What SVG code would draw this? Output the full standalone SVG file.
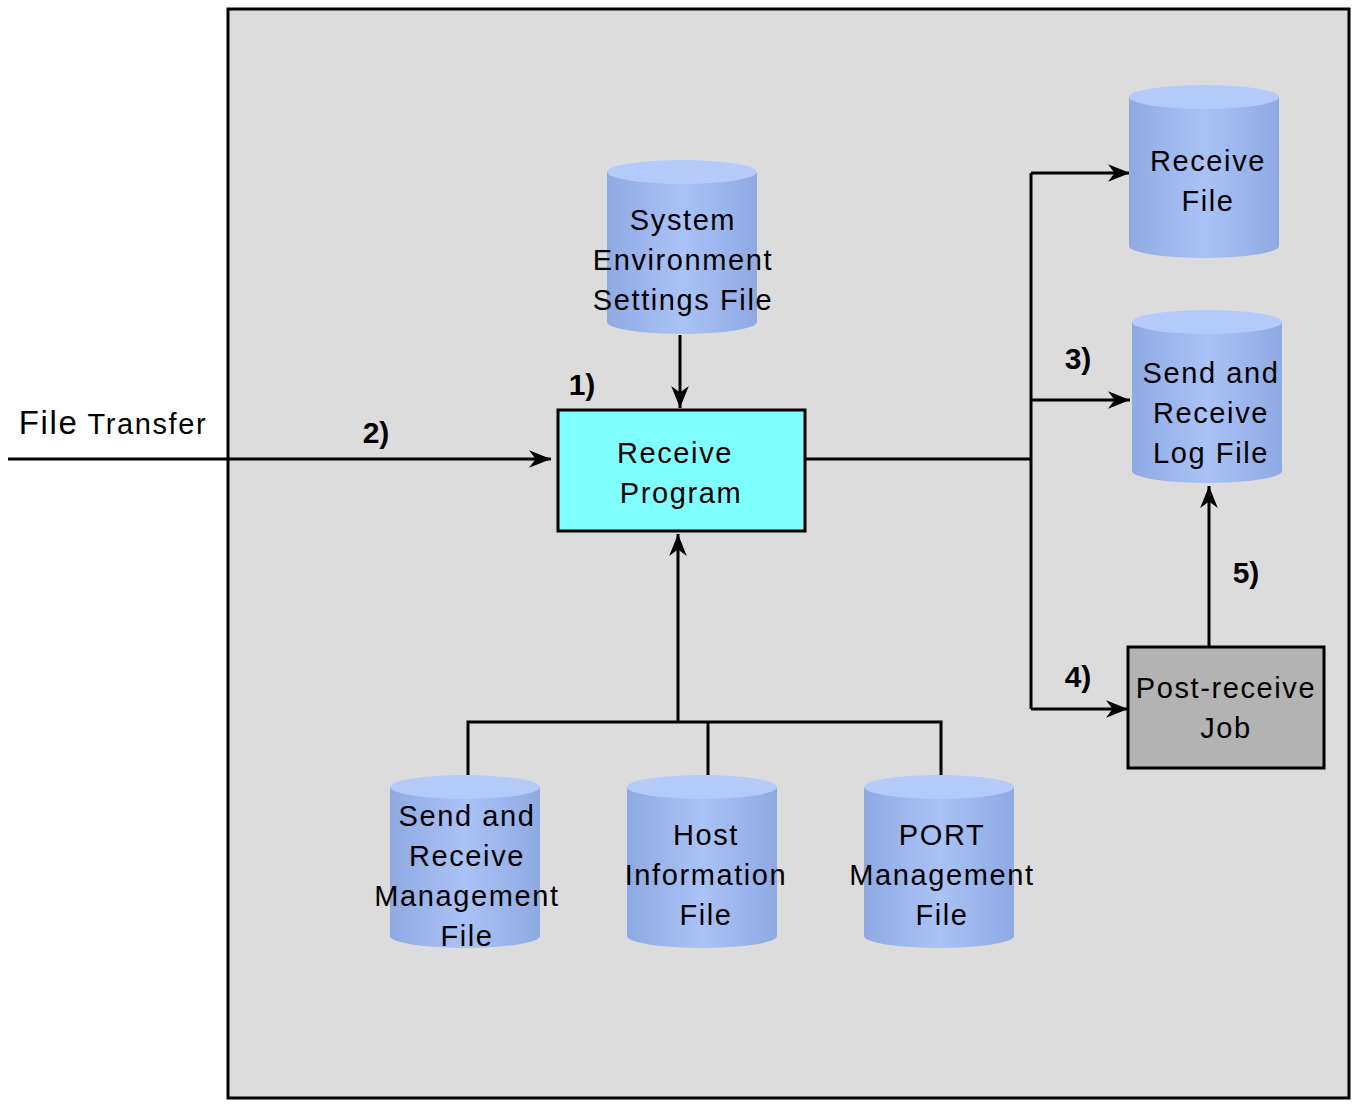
<svg xmlns="http://www.w3.org/2000/svg" width="1358" height="1108" viewBox="0 0 1358 1108">
<defs>
<linearGradient id="cg" x1="0" x2="1" y1="0" y2="0"><stop offset="0" stop-color="#8eaae2"/><stop offset="0.5" stop-color="#aac3f6"/><stop offset="1" stop-color="#8eaae2"/></linearGradient>
<marker id="a" viewBox="0 0 20 16" refX="20" refY="8" markerWidth="22" markerHeight="18" markerUnits="userSpaceOnUse" orient="auto"><path d="M0,0 L20,8 L0,16 L6,8 Z" fill="#000"/></marker>
</defs>
<style>
text{font-family:"Liberation Sans",Arial,sans-serif;font-size:29px;text-anchor:middle;fill:#000;letter-spacing:1.6px}
.b{font-weight:bold;font-size:30px;letter-spacing:0}
.ln{stroke:#000;stroke-width:3;fill:none}
.body{fill:url(#cg)}
.top{fill:#b4cbfa}
</style>
<rect x="228" y="9" width="1121" height="1089" fill="#dcdcdc" stroke="#000" stroke-width="3"/>
<g id="connectors">
<path class="ln" d="M8,459 H551" marker-end="url(#a)"/>
<path class="ln" d="M680,335 V408" marker-end="url(#a)"/>
<path class="ln" d="M678,722 V534" marker-end="url(#a)"/>
<path class="ln" d="M468,775 V722 H941 V775 M708,722 V775"/>
<path class="ln" d="M805,459 H1031 M1031,173 V709"/>
<path class="ln" d="M1031,173 H1130" marker-end="url(#a)"/>
<path class="ln" d="M1031,400 H1130" marker-end="url(#a)"/>
<path class="ln" d="M1031,709 H1128" marker-end="url(#a)"/>
<path class="ln" d="M1209,647 V486" marker-end="url(#a)"/>
</g>
<g id="labels">
<text x="113" y="434"><tspan font-size="33">File</tspan> Transfer</text>
<text class="b" x="376" y="443">2)</text>
<text class="b" x="582" y="395">1)</text>
<text class="b" x="1078" y="369">3)</text>
<text class="b" x="1078" y="687">4)</text>
<text class="b" x="1246" y="583">5)</text>
</g>
<g id="sysenv"><path class="body" d="M607,172 V322 A75,12 0 0 0 757,322 V172 Z"/><ellipse class="top" cx="682" cy="172" rx="75" ry="12"/>
<text x="683" y="230">System</text><text x="683" y="270">Environment</text><text x="683" y="310">Settings  File</text></g>
<g id="recvfile"><path class="body" d="M1129,97 V246 A75,12 0 0 0 1279,246 V97 Z"/><ellipse class="top" cx="1204" cy="97" rx="75" ry="12"/>
<text x="1208" y="171">Receive</text><text x="1208" y="211">File</text></g>
<g id="logfile"><path class="body" d="M1132,322 V471 A75,12 0 0 0 1282,471 V322 Z"/><ellipse class="top" cx="1207" cy="322" rx="75" ry="12"/>
<text x="1211" y="383">Send  and</text><text x="1211" y="423">Receive</text><text x="1211" y="463">Log  File</text></g>
<g id="srmgmt"><path class="body" d="M390,787 V936 A75,12 0 0 0 540,936 V787 Z"/><ellipse class="top" cx="465" cy="787" rx="75" ry="12"/>
<text x="467" y="826">Send  and</text><text x="467" y="866">Receive</text><text x="467" y="906">Management</text><text x="467" y="946">File</text></g>
<g id="host"><path class="body" d="M627,787 V936 A75,12 0 0 0 777,936 V787 Z"/><ellipse class="top" cx="702" cy="787" rx="75" ry="12"/>
<text x="706" y="845">Host</text><text x="706" y="885">Information</text><text x="706" y="925">File</text></g>
<g id="port"><path class="body" d="M864,787 V936 A75,12 0 0 0 1014,936 V787 Z"/><ellipse class="top" cx="939" cy="787" rx="75" ry="12"/>
<text x="942" y="845">PORT</text><text x="942" y="885">Management</text><text x="942" y="925">File</text></g>
<g id="recvprog"><rect x="558" y="410" width="247" height="121" fill="#80ffff" stroke="#000" stroke-width="3"/>
<text x="675" y="463">Receive</text><text x="681" y="503">Program</text></g>
<g id="postjob"><rect x="1128" y="647" width="196" height="121" fill="#b3b3b3" stroke="#000" stroke-width="3"/>
<text x="1226" y="698">Post-receive</text><text x="1226" y="738">Job</text></g>
</svg>
